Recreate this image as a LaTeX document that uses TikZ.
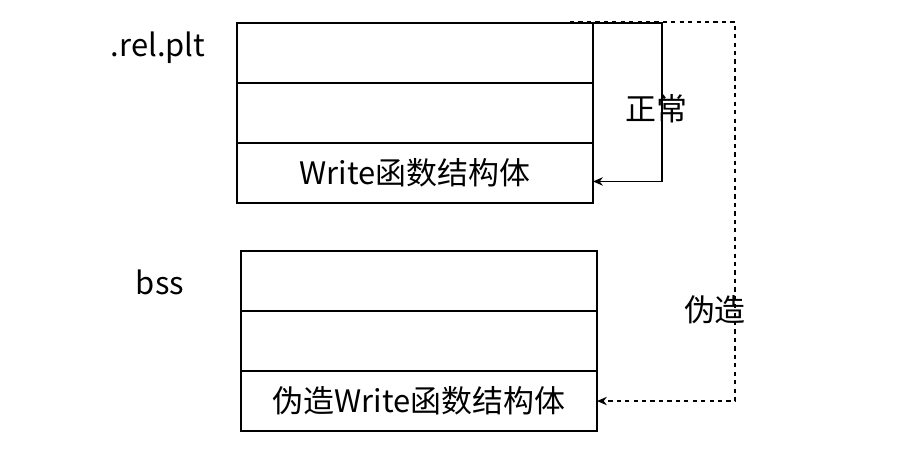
\documentclass[tikz,border=0pt]{standalone}
\usepackage{fontspec}
\setmainfont{Noto Sans CJK SC}
\usetikzlibrary{positioning,arrows.meta}
\begin{document}
\begin{tikzpicture}[x=0.025cm,y=-0.025cm,
  font=\fontsize{22}{26}\selectfont,
  >={Stealth[length=7pt,width=6pt]},
  cell/.style={draw,thick,minimum width=8.9cm,minimum height=1.5cm,
               inner sep=0pt,outer sep=0pt}]

\useasboundingbox (0,0) rectangle (924,452);

\node[cell] (r1) at (415,53) {};
\node[cell,below=0pt of r1] (r2) {};
\node[cell,below=0pt of r2] (r3) {Write函数结构体};

\node[cell] (b1) at (419,281) {};
\node[cell,below=0pt of b1] (b2) {};
\node[cell,below=0pt of b2] (b3) {伪造Write函数结构体};

\node at (158,48) (relCap) {.rel.plt};
\node at (160,282) (bssCap) {bss};

\coordinate (nStart) at (r1.north east);
\coordinate (fStart) at (570,22);

\draw[->,thick] (nStart) -- ++(69,0)
     |- node[pos=0.27,left=-22pt] {正常} ([yshift=-6]r3.east);
\draw[->,thick,dashed] (fStart) -- (735,22)
     |- node[pos=0.38,right=-40pt] {伪造} (b3.east);

\end{tikzpicture}
\end{document}
